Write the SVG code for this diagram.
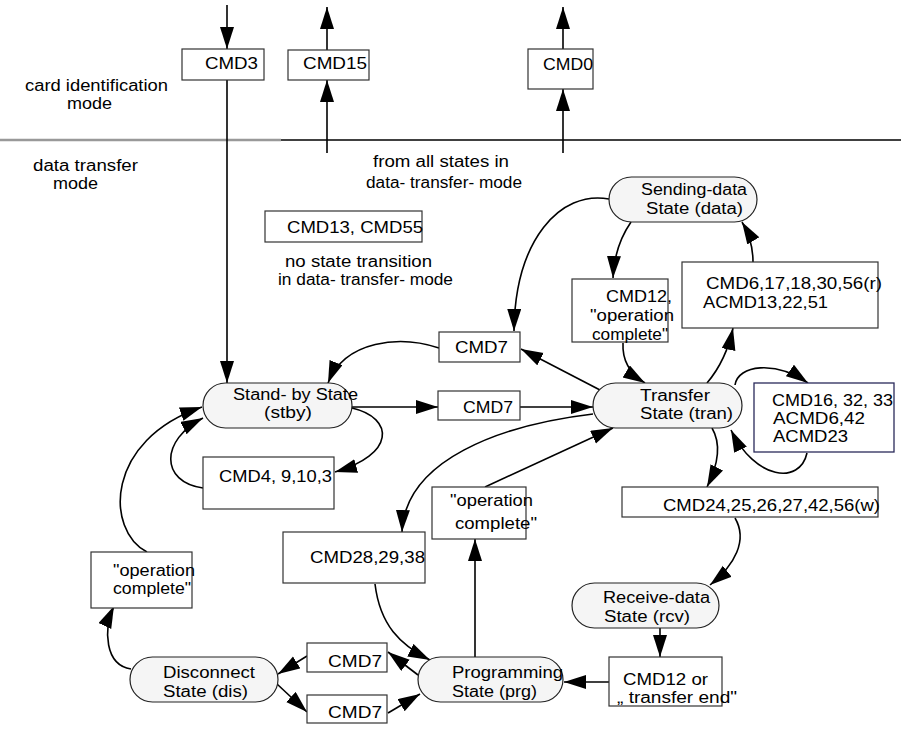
<svg xmlns="http://www.w3.org/2000/svg" width="901" height="731" viewBox="0 0 901 731">
<defs>
<marker id="ah" markerUnits="userSpaceOnUse" markerWidth="23" markerHeight="15" refX="22" refY="7" orient="auto">
<path d="M0,0 L22,7 L0,14 z" fill="#000"/>
</marker>
<style>
text{font-family:"Liberation Sans",Arial,sans-serif;font-size:16px;fill:#000}
.box{fill:#fff;stroke:#333;stroke-width:1.2}
.st{fill:#f5f5f5;stroke:#222;stroke-width:1.2}
.a{fill:none;stroke:#000;stroke-width:1.6;marker-end:url(#ah)}
</style>
</defs>
<rect width="901" height="731" fill="#fff"/>
<g id="separator">
<line x1="0" y1="140" x2="281" y2="140" stroke="#999" stroke-width="2.5"/>
<line x1="281" y1="140" x2="901" y2="140" stroke="#000" stroke-width="1.6"/>
</g>
<g id="labels">
<text x="25" y="91" textLength="143" lengthAdjust="spacingAndGlyphs">card identification</text>
<text x="67" y="109" textLength="45" lengthAdjust="spacingAndGlyphs">mode</text>
<text x="33" y="171" textLength="105" lengthAdjust="spacingAndGlyphs">data transfer</text>
<text x="53" y="189" textLength="45" lengthAdjust="spacingAndGlyphs">mode</text>
<text x="373" y="167" textLength="136" lengthAdjust="spacingAndGlyphs">from all states in</text>
<text x="366" y="188" textLength="156" lengthAdjust="spacingAndGlyphs">data- transfer- mode</text>
<text x="285" y="267" textLength="147" lengthAdjust="spacingAndGlyphs">no state transition</text>
<text x="278" y="285" textLength="175" lengthAdjust="spacingAndGlyphs">in data- transfer- mode</text>
</g>
<g id="connectors">
<line class="a" x1="227" y1="5" x2="227" y2="49"/>
<line class="a" x1="227" y1="80" x2="227" y2="383"/>
<line class="a" x1="327" y1="50" x2="327" y2="7"/>
<line class="a" x1="327" y1="153" x2="327" y2="80"/>
<line class="a" x1="563" y1="49" x2="563" y2="7"/>
<line class="a" x1="563" y1="153" x2="563" y2="89"/>
<line class="a" x1="352" y1="407" x2="438" y2="407"/>
<line class="a" x1="520" y1="407" x2="593" y2="407"/>
<line class="a" x1="600" y1="390" x2="521" y2="349"/>
<path class="a" d="M439,348 C400,335 345,340 328,383"/>
<path class="a" d="M609,199 C560,190 515,240 514,331"/>
<path class="a" d="M631,222 C620,238 614,255 613,278"/>
<path class="a" d="M623,343 C622,362 632,375 645,383"/>
<path class="a" d="M707,383 C718,370 728,352 733,328"/>
<path class="a" d="M753,262 C753,245 748,232 742,222"/>
<path class="a" d="M735,385 C738,365 775,360 808,383"/>
<path class="a" d="M807,453 C800,485 755,480 731,430"/>
<path class="a" d="M712,428 C722,445 718,465 707,487"/>
<path class="a" d="M735,518 C748,540 735,565 710,585"/>
<line class="a" x1="660" y1="628" x2="660" y2="657"/>
<line class="a" x1="609" y1="682" x2="564" y2="682"/>
<line class="a" x1="475" y1="657" x2="475" y2="539"/>
<line class="a" x1="485" y1="487" x2="613" y2="428"/>
<path class="a" d="M593,414 C500,425 405,460 402,532"/>
<path class="a" d="M375,584 C380,625 400,645 430,660"/>
<line class="a" x1="418" y1="675" x2="388" y2="652"/>
<line class="a" x1="307" y1="656" x2="278" y2="674"/>
<line class="a" x1="277" y1="684" x2="307" y2="712"/>
<line class="a" x1="388" y1="713" x2="420" y2="694"/>
<path class="a" d="M131,669 C105,665 103,630 114,606"/>
<path class="a" d="M147,552 C105,530 105,440 202,407"/>
<path class="a" d="M352,408 C395,418 395,455 335,472"/>
<path class="a" d="M203,488 C160,482 160,440 203,418"/>
</g>
<g id="cmd3"><rect class="box" x="182" y="49" width="82" height="31"/><text x="205" y="69" textLength="53" lengthAdjust="spacingAndGlyphs">CMD3</text></g>
<g id="cmd15"><rect class="box" x="288" y="50" width="81" height="30"/><text x="303" y="69" textLength="64" lengthAdjust="spacingAndGlyphs">CMD15</text></g>
<g id="cmd0"><rect class="box" x="528" y="49" width="65" height="40"/><text x="543" y="70" textLength="50" lengthAdjust="spacingAndGlyphs">CMD0</text></g>
<g id="cmd13"><rect class="box" x="265" y="211" width="157" height="31"/><text x="287" y="233" textLength="136" lengthAdjust="spacingAndGlyphs">CMD13, CMD55</text></g>
<g id="sending"><rect class="st" x="609" y="177" width="148" height="45" rx="22.5"/><text x="641" y="195" textLength="106" lengthAdjust="spacingAndGlyphs">Sending-data</text><text x="646" y="214" textLength="97" lengthAdjust="spacingAndGlyphs">State (data)</text></g>
<g id="cmd12op"><rect class="box" x="572" y="279" width="96" height="63"/><text x="606" y="302" textLength="66" lengthAdjust="spacingAndGlyphs">CMD12,</text><text x="590" y="321" textLength="84" lengthAdjust="spacingAndGlyphs">"operation</text><text x="592" y="340" textLength="76" lengthAdjust="spacingAndGlyphs">complete"</text></g>
<g id="cmd6"><rect class="box" x="682" y="262" width="196" height="66"/><text x="706" y="289" textLength="176" lengthAdjust="spacingAndGlyphs">CMD6,17,18,30,56(r)</text><text x="703" y="308" textLength="125" lengthAdjust="spacingAndGlyphs">ACMD13,22,51</text></g>
<g id="cmd7a"><rect class="box" x="439" y="332" width="81" height="30"/><text x="455" y="353" textLength="53" lengthAdjust="spacingAndGlyphs">CMD7</text></g>
<g id="cmd7b"><rect class="box" x="438" y="391" width="82" height="29"/><text x="463" y="413" textLength="50" lengthAdjust="spacingAndGlyphs">CMD7</text></g>
<g id="stby"><rect class="st" x="203" y="383" width="149" height="45" rx="22.5"/><text x="233" y="400" textLength="125" lengthAdjust="spacingAndGlyphs">Stand- by State</text><text x="264" y="418" textLength="48" lengthAdjust="spacingAndGlyphs">(stby)</text></g>
<g id="cmd4"><rect class="box" x="203" y="457" width="131" height="52"/><text x="219" y="482" textLength="113" lengthAdjust="spacingAndGlyphs">CMD4, 9,10,3</text></g>
<g id="tran"><rect class="st" x="593" y="383" width="149" height="45" rx="22.5"/><text x="640" y="401" textLength="70" lengthAdjust="spacingAndGlyphs">Transfer</text><text x="640" y="419" textLength="93" lengthAdjust="spacingAndGlyphs">State (tran)</text></g>
<g id="cmd16"><rect x="754" y="383" width="140" height="69" fill="#fff" stroke="#2a2a5a" stroke-width="1.3"/><text x="772" y="406" textLength="121" lengthAdjust="spacingAndGlyphs">CMD16, 32, 33</text><text x="773" y="424" textLength="92" lengthAdjust="spacingAndGlyphs">ACMD6,42</text><text x="773" y="442" textLength="75" lengthAdjust="spacingAndGlyphs">ACMD23</text></g>
<g id="cmd24"><rect class="box" x="622" y="487" width="256" height="30"/><text x="663" y="511" textLength="217" lengthAdjust="spacingAndGlyphs">CMD24,25,26,27,42,56(w)</text></g>
<g id="opmid"><rect class="box" x="432" y="487" width="94" height="52"/><text x="450" y="506" textLength="83" lengthAdjust="spacingAndGlyphs">"operation</text><text x="455" y="529" textLength="82" lengthAdjust="spacingAndGlyphs">complete"</text></g>
<g id="cmd28"><rect class="box" x="283" y="532" width="142" height="51"/><text x="310" y="563" textLength="115" lengthAdjust="spacingAndGlyphs">CMD28,29,38</text></g>
<g id="rcv"><rect class="st" x="572" y="583" width="147" height="45" rx="22.5"/><text x="603" y="603" textLength="107" lengthAdjust="spacingAndGlyphs">Receive-data</text><text x="604" y="622" textLength="86" lengthAdjust="spacingAndGlyphs">State (rcv)</text></g>
<g id="cmd12or"><rect class="box" x="609" y="657" width="113" height="49"/><text x="623" y="685" textLength="85" lengthAdjust="spacingAndGlyphs">CMD12 or</text><text x="617" y="703" textLength="120" lengthAdjust="spacingAndGlyphs">„ transfer end"</text></g>
<g id="opleft"><rect class="box" x="91" y="552" width="101" height="56"/><text x="113" y="576" textLength="82" lengthAdjust="spacingAndGlyphs">"operation</text><text x="113" y="594" textLength="78" lengthAdjust="spacingAndGlyphs">complete"</text></g>
<g id="dis"><rect class="st" x="130" y="657" width="148" height="45" rx="22.5"/><text x="163" y="678" textLength="92" lengthAdjust="spacingAndGlyphs">Disconnect</text><text x="163" y="697" textLength="85" lengthAdjust="spacingAndGlyphs">State (dis)</text></g>
<g id="cmd7c"><rect class="box" x="307" y="643" width="80" height="29"/><text x="328" y="667" textLength="54" lengthAdjust="spacingAndGlyphs">CMD7</text></g>
<g id="cmd7d"><rect class="box" x="307" y="695" width="80" height="28"/><text x="328" y="718" textLength="54" lengthAdjust="spacingAndGlyphs">CMD7</text></g>
<g id="prg"><rect class="st" x="418" y="657" width="145" height="45" rx="22.5"/><text x="452" y="678" textLength="111" lengthAdjust="spacingAndGlyphs">Programming</text><text x="452" y="697" textLength="85" lengthAdjust="spacingAndGlyphs">State (prg)</text></g>
</svg>
